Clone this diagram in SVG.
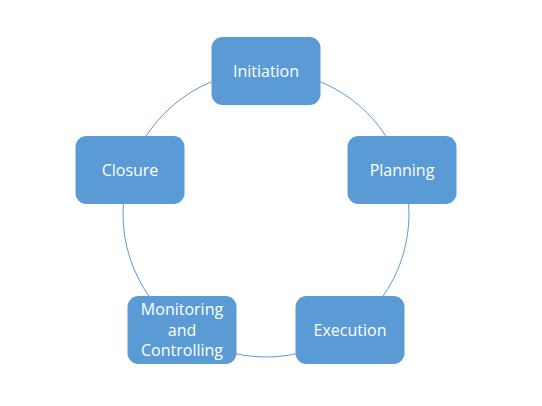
<svg xmlns="http://www.w3.org/2000/svg" width="542" height="406" viewBox="0 0 542 406">
<style>
.box{fill:#5B9BD5;}
.lbl{font-family:"Open Sans","Liberation Sans",sans-serif;font-size:16px;fill:#FFFFFF;text-anchor:middle;}
.arc{fill:none;stroke:#5B9BD5;stroke-width:1;}
</style>
<rect width="542" height="406" fill="#FFFFFF"/>
<g id="connectors">
<path class="arc" d="M266,71 A143,143 0 0 1 402,169.8"/>
<path class="arc" d="M402,169.8 A143,143 0 0 1 350.05,329.7"/>
<path class="arc" d="M350.05,329.7 A143,143 0 0 1 181.95,329.7"/>
<path class="arc" d="M181.95,329.7 A143,143 0 0 1 130,169.8"/>
<path class="arc" d="M130,169.8 A143,143 0 0 1 266,71"/>
</g>
<g id="initiation">
<rect class="box" x="211.5" y="37" width="109" height="68" rx="11"/>
<text class="lbl" x="266" y="76.5">Initiation</text>
</g>
<g id="planning">
<rect class="box" x="347.5" y="136" width="109" height="68" rx="11"/>
<text class="lbl" x="402" y="175.5">Planning</text>
</g>
<g id="execution">
<rect class="box" x="295.5" y="296" width="109" height="68" rx="11"/>
<text class="lbl" x="350" y="335.5">Execution</text>
</g>
<g id="monitoring">
<rect class="box" x="127.5" y="296" width="109" height="68" rx="11"/>
<text class="lbl" x="182" y="315">Monitoring</text>
<text class="lbl" x="182" y="335.5">and</text>
<text class="lbl" x="182" y="356">Controlling</text>
</g>
<g id="closure">
<rect class="box" x="75.5" y="136" width="109" height="68" rx="11"/>
<text class="lbl" x="130" y="175.5">Closure</text>
</g>
</svg>
